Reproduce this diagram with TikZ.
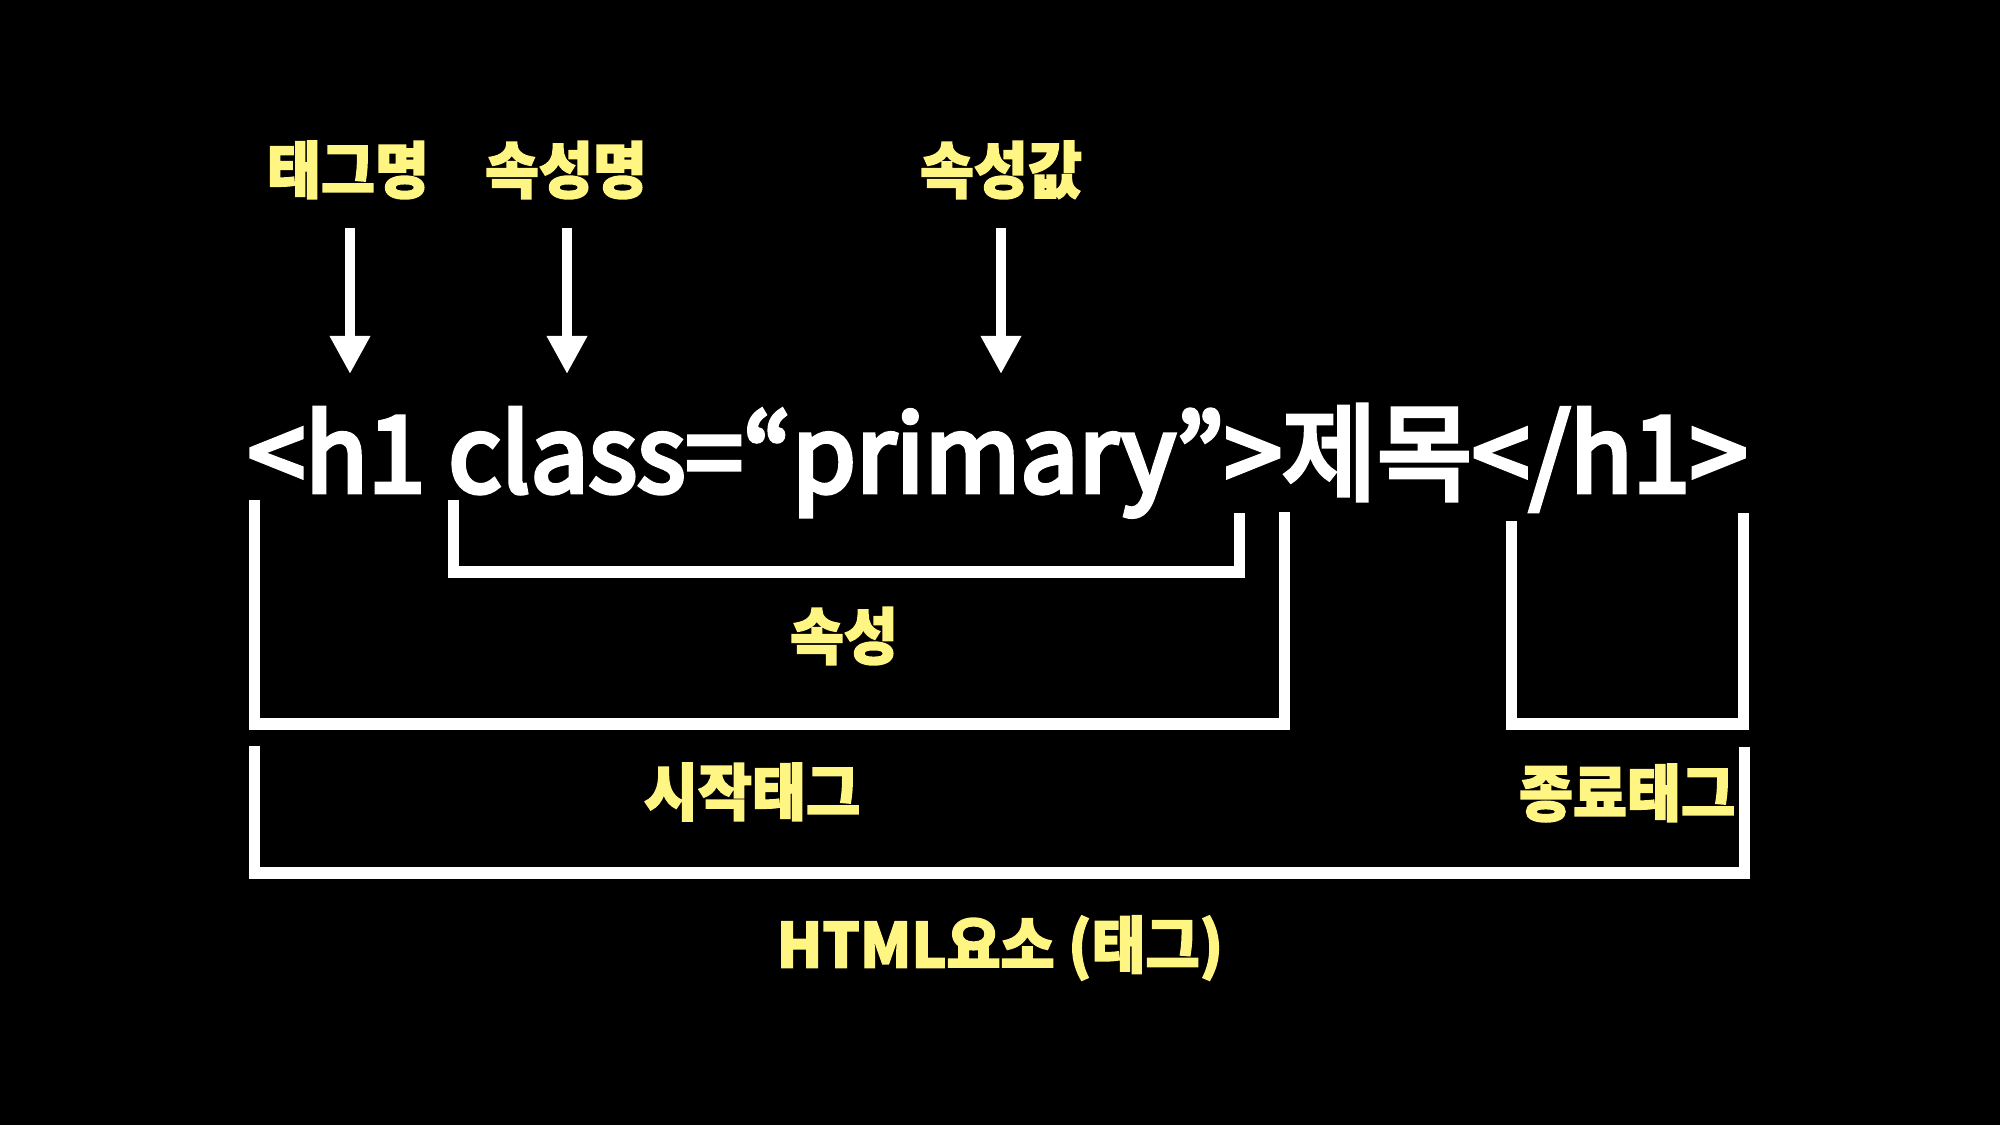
\documentclass[tikz,border=0pt]{standalone}
\usepackage{fontspec}
\usetikzlibrary{arrows.meta}
\newfontfamily\codef[FakeBold=4.5]{Noto Sans CJK KR}
\newfontfamily\labf[BoldFeatures={FakeBold=2.5}]{Noto Sans CJK KR}
\definecolor{labyellow}{RGB}{255,245,130}
\newcommand{\lab}[1]{\scalebox{1}[1.05]{#1}}
\tikzset{
  bracketline/.style={draw=white, line width=0.11cm, line cap=butt, line join=miter},
  arrowline/.style={draw=white, line width=0.10cm, -{Triangle[length=0.38cm,width=0.38cm]}},
  labeltext/.style={text=labyellow, inner sep=0pt, font=\labf\bfseries\fontsize{16.7pt}{19pt}\selectfont},
  codetext/.style={text=white, inner sep=0pt, font=\codef\fontsize{30pt}{36pt}\selectfont}
}
\begin{document}
\begin{tikzpicture}[x=0.01cm, y=-0.01cm]
\fill[black] (0,0) rectangle (2000,1125);
\useasboundingbox (0,0) rectangle (2000,1125);

% main code line
\node[codetext, anchor=base west] (code) at (247,492) {\scalebox{0.98}[1]{<h1 class=“primary”>제목</h1>}};

% top labels
\node[labeltext] (tagname) at (348,170) {\lab{태그명}};
\node[labeltext] (attrname) at (566,170) {\lab{속성명}};
\node[labeltext] (attrval) at (1001,170) {\lab{속성값}};

% arrow end points
\coordinate (t1) at (350,228); \coordinate (h1) at (350,374);
\coordinate (t2) at (567,228); \coordinate (h2) at (567,374);
\coordinate (t3) at (1001,228); \coordinate (h3) at (1001,374);
\draw[arrowline] (t1) -- (h1);
\draw[arrowline] (t2) -- (h2);
\draw[arrowline] (t3) -- (h3);

% bracket corner points
\coordinate (a1) at (453,500); \coordinate (a2) at (453,572);
\coordinate (a3) at (1239,572); \coordinate (a4) at (1239,513);
\coordinate (s1) at (254,500); \coordinate (s2) at (254,724);
\coordinate (s3) at (1284,724); \coordinate (s4) at (1284,512);
\coordinate (e1) at (1511,521); \coordinate (e2) at (1511,724);
\coordinate (e3) at (1743,724); \coordinate (e4) at (1743,513);
\coordinate (m1) at (254,746); \coordinate (m2) at (254,873);
\coordinate (m3) at (1744,873); \coordinate (m4) at (1744,747);

\draw[bracketline] (a1) -- (a2) -- (a3) -- (a4);
\draw[bracketline] (s1) -- (s2) -- (s3) -- (s4);
\draw[bracketline] (e1) -- (e2) -- (e3) -- (e4);
\draw[bracketline] (m1) -- (m2) -- (m3) -- (m4);

% bracket labels
\node[labeltext] (attr) at (844,636) {\lab{속성}};
\node[labeltext] (starttag) at (752,792) {\lab{시작태그}};
\node[labeltext] (endtag) at (1627,793) {\lab{종료태그}};
\node[labeltext] (element) at (1000,948) {\lab{HTML요소 (태그)}};
\end{tikzpicture}
\end{document}
